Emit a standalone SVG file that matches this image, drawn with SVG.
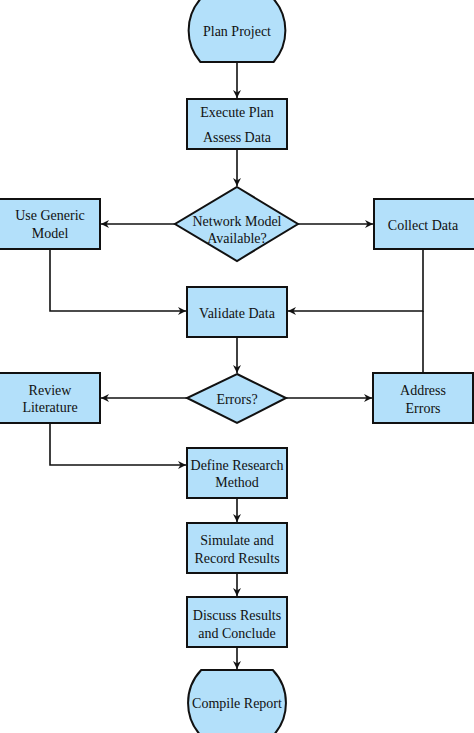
<svg xmlns="http://www.w3.org/2000/svg" width="474" height="733" viewBox="0 0 474 733">
<defs>
<style>
.n{fill:#b3e0fa;stroke:#111;stroke-width:2}
.t{font-family:"Liberation Serif","Times New Roman",serif;font-size:14px;fill:#111;text-anchor:middle;dominant-baseline:central}
.c{fill:none;stroke:#111;stroke-width:1.6}
</style>
<marker id="ah" markerWidth="10" markerHeight="10" refX="8" refY="5" orient="auto" markerUnits="userSpaceOnUse">
<path d="M0,1 L8,5 L0,9 L2.5,5 Z" fill="#111"/>
</marker>
</defs>
<rect width="474" height="733" fill="#fff"/>
<g id="connectors">
<path class="c" d="M237,62 V98" marker-end="url(#ah)"/>
<path class="c" d="M237,149 V186" marker-end="url(#ah)"/>
<path class="c" d="M175,224 H101" marker-end="url(#ah)"/>
<path class="c" d="M298,224 H373" marker-end="url(#ah)"/>
<path class="c" d="M50,249 V311 H186" marker-end="url(#ah)"/>
<path class="c" d="M423,249 V311 H288" marker-end="url(#ah)"/>
<path class="c" d="M423,373 V311"/>
<path class="c" d="M237,337 V373" marker-end="url(#ah)"/>
<path class="c" d="M187,398 H101" marker-end="url(#ah)"/>
<path class="c" d="M286,398 H372" marker-end="url(#ah)"/>
<path class="c" d="M50,423 V465 H186" marker-end="url(#ah)"/>
<path class="c" d="M237,498 V522" marker-end="url(#ah)"/>
<path class="c" d="M237,573 V596" marker-end="url(#ah)"/>
<path class="c" d="M237,647 V669" marker-end="url(#ah)"/>
</g>
<g id="plan-project">
<path class="n" d="M200.4,-1 L273.6,-1 A48 48 0 0 1 273.6,62 L200.4,62 A48 48 0 0 1 200.4,-1 Z"/>
<text class="t" x="237" y="31">Plan Project</text>
</g>
<g id="execute-plan">
<rect class="n" x="187" y="99" width="100" height="50"/>
<text class="t" x="237" y="112">Execute Plan</text>
<text class="t" x="237" y="137">Assess Data</text>
</g>
<g id="network-model">
<polygon class="n" points="237,187 298,224 237,261 175,224"/>
<text class="t" x="237" y="221">Network Model</text>
<text class="t" x="237" y="238">Available?</text>
</g>
<g id="use-generic-model">
<rect class="n" x="-1" y="199" width="101" height="50"/>
<text class="t" x="50" y="215">Use Generic</text>
<text class="t" x="50" y="233">Model</text>
</g>
<g id="collect-data">
<rect class="n" x="374" y="199" width="101" height="50"/>
<text class="t" x="423" y="225">Collect Data</text>
</g>
<g id="validate-data">
<rect class="n" x="187" y="287" width="100" height="50"/>
<text class="t" x="237" y="313">Validate Data</text>
</g>
<g id="errors">
<polygon class="n" points="237,374 286,398 237,423 187,398"/>
<text class="t" x="237" y="399">Errors?</text>
</g>
<g id="review-literature">
<rect class="n" x="-1" y="373" width="101" height="50"/>
<text class="t" x="50" y="390">Review</text>
<text class="t" x="50" y="407">Literature</text>
</g>
<g id="address-errors">
<rect class="n" x="373" y="373" width="100" height="50"/>
<text class="t" x="423" y="390">Address</text>
<text class="t" x="423" y="408">Errors</text>
</g>
<g id="define-research-method">
<rect class="n" x="187" y="448" width="100" height="50"/>
<text class="t" x="237" y="465">Define Research</text>
<text class="t" x="237" y="482">Method</text>
</g>
<g id="simulate">
<rect class="n" x="187" y="523" width="100" height="50"/>
<text class="t" x="237" y="540">Simulate and</text>
<text class="t" x="237" y="558">Record Results</text>
</g>
<g id="discuss">
<rect class="n" x="187" y="597" width="100" height="50"/>
<text class="t" x="237" y="615">Discuss Results</text>
<text class="t" x="237" y="633">and Conclude</text>
</g>
<g id="compile-report">
<path class="n" d="M201.2,670 L272.8,670 A48 48 0 0 1 272.8,736 L201.2,736 A48 48 0 0 1 201.2,670 Z"/>
<text class="t" x="237" y="703">Compile Report</text>
</g>
</svg>
